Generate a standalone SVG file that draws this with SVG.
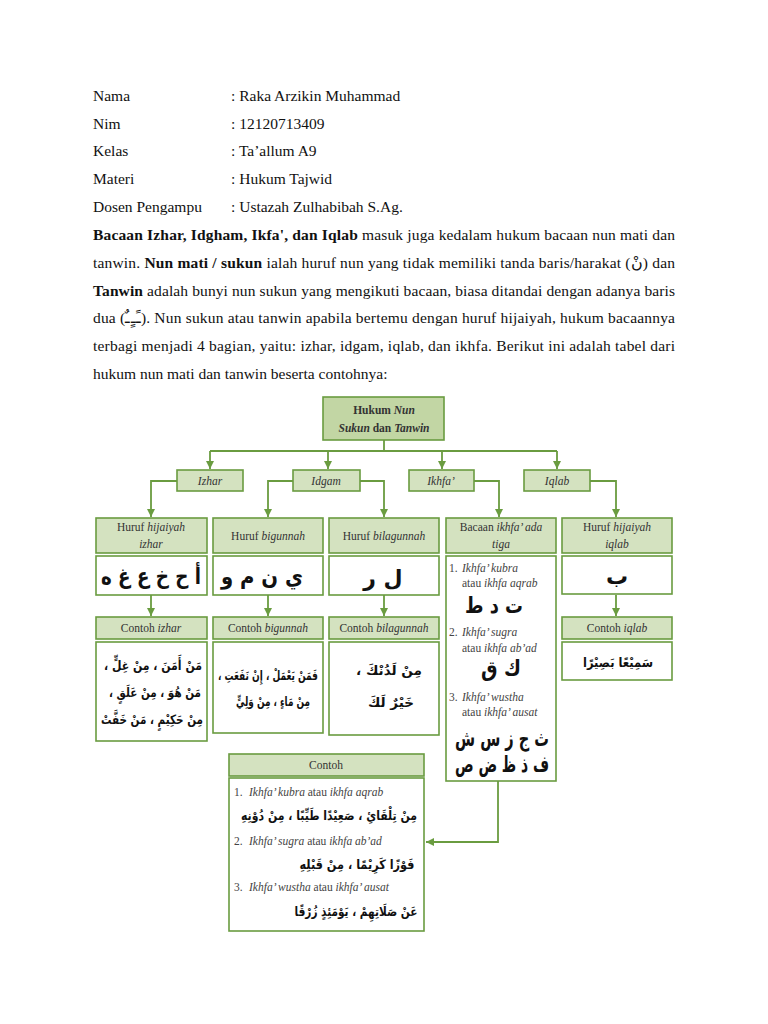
<svg xmlns="http://www.w3.org/2000/svg" width="768" height="1024" viewBox="0 0 768 1024">
<defs>
<marker id="ah" markerUnits="userSpaceOnUse" markerWidth="10" markerHeight="10" refX="8" refY="4" orient="auto">
<path d="M0,0 L8,4 L0,8 Z" fill="#6a9c40"/>
</marker>
<style>
.doc{font-family:"Liberation Serif","Times New Roman",serif;font-size:15.5px;fill:#111}
.b{font-weight:bold}
.hd{fill:#d4e2c0;stroke:#6a9c40;stroke-width:1.6}
.top{fill:#c2d6a4;stroke:#6a9c40;stroke-width:1.6}
.bx{fill:#fff;stroke:#6a9c40;stroke-width:1.6}
.lbl{font-family:"Liberation Serif","Times New Roman",serif;font-size:11.5px;fill:#333;text-anchor:middle}
.sm{font-family:"Liberation Serif","Times New Roman",serif;font-size:11.5px;fill:#444}
.i{font-style:italic}
.ar{font-family:"DejaVu Sans","Noto Sans",sans-serif;fill:#111;direction:rtl;unicode-bidi:embed;text-anchor:middle}
.big{font-size:22px;font-weight:bold}
.ex{font-size:13px;font-weight:bold}
.cn{fill:none;stroke:#6a9c40;stroke-width:1.8}
</style>
</defs>
<rect width="768" height="1024" fill="#fff"/>

<g id="header" class="doc">
<text x="93" y="101">Nama</text><text x="231" y="101">: Raka Arzikin Muhammad</text>
<text x="93" y="129">Nim</text><text x="231" y="129">: 12120713409</text>
<text x="93" y="156">Kelas</text><text x="231" y="156">: Ta’allum A9</text>
<text x="93" y="184">Materi</text><text x="231" y="184">: Hukum Tajwid</text>
<text x="93" y="212">Dosen Pengampu</text><text x="231" y="212">: Ustazah Zulhabibah S.Ag.</text>
</g>

<g id="paragraph" class="doc">
<text x="93" y="240" textLength="582" lengthAdjust="spacing"><tspan class="b">Bacaan Izhar, Idgham, Ikfa', dan Iqlab</tspan> masuk juga kedalam hukum bacaan nun mati dan</text>
<text x="93" y="268" textLength="582" lengthAdjust="spacing">tanwin. <tspan class="b">Nun mati / sukun</tspan> ialah huruf nun yang tidak memiliki tanda baris/harakat (نْ) dan</text>
<text x="93" y="296" textLength="582" lengthAdjust="spacing"><tspan class="b">Tanwin</tspan> adalah bunyi nun sukun yang mengikuti bacaan, biasa ditandai dengan adanya baris</text>
<text x="93" y="323" textLength="582" lengthAdjust="spacing">dua (ـًـٍـٌ).  Nun sukun atau tanwin apabila bertemu dengan huruf hijaiyah, hukum bacaannya</text>
<text x="93" y="351" textLength="582" lengthAdjust="spacing">terbagi menjadi 4 bagian, yaitu: izhar, idgam, iqlab, dan ikhfa. Berikut ini adalah tabel dari</text>
<text x="93" y="379">hukum nun mati dan tanwin beserta contohnya:</text>
</g>

<g id="connectors">
<path class="cn" d="M384,440 V451 M210,451 H557"/>
<path class="cn" d="M210,451 V469" marker-end="url(#ah)"/>
<path class="cn" d="M328,451 V469" marker-end="url(#ah)"/>
<path class="cn" d="M442,451 V469" marker-end="url(#ah)"/>
<path class="cn" d="M557,451 V469" marker-end="url(#ah)"/>
<path class="cn" d="M177,481 H151 V517" marker-end="url(#ah)"/>
<path class="cn" d="M293,481 H268 V517" marker-end="url(#ah)"/>
<path class="cn" d="M360,481 H384 V517" marker-end="url(#ah)"/>
<path class="cn" d="M474,481 H499 V517" marker-end="url(#ah)"/>
<path class="cn" d="M590,481 H616 V517" marker-end="url(#ah)"/>
<path class="cn" d="M151,595 V616" marker-end="url(#ah)"/>
<path class="cn" d="M268,595 V616" marker-end="url(#ah)"/>
<path class="cn" d="M384,595 V616" marker-end="url(#ah)"/>
<path class="cn" d="M616,595 V616" marker-end="url(#ah)"/>
<path class="cn" d="M498,781 V842 H426" marker-end="url(#ah)"/>
</g>

<g id="hukum">
<rect class="top" x="323" y="397" width="121" height="43"/>
<text class="lbl b" x="384" y="414" font-size="12.5">Hukum <tspan class="i">Nun</tspan></text>
<text class="lbl b" x="384" y="432" font-size="12.5"><tspan class="i">Sukun</tspan> dan <tspan class="i">Tanwin</tspan></text>
</g>

<g id="izhar"><rect class="hd" x="177" y="470" width="66" height="21"/><text class="lbl i" x="210" y="485">Izhar</text></g>
<g id="idgam"><rect class="hd" x="293" y="470" width="67" height="21"/><text class="lbl i" x="326" y="485">Idgam</text></g>
<g id="ikhfa"><rect class="hd" x="409" y="470" width="65" height="21"/><text class="lbl i" x="441" y="485">Ikhfa’</text></g>
<g id="iqlab"><rect class="hd" x="524" y="470" width="66" height="21"/><text class="lbl i" x="557" y="485">Iqlab</text></g>

<g id="huruf-izhar">
<rect class="hd" x="96" y="518" width="111" height="35"/>
<text class="lbl" x="151" y="531">Huruf <tspan class="i">hijaiyah</tspan></text>
<text class="lbl i" x="151" y="548">izhar</text>
<rect class="bx" x="96" y="556" width="111" height="39"/>
<text class="ar big" x="151" y="584" textLength="100" lengthAdjust="spacingAndGlyphs">أ ح خ ع غ ه</text>
</g>
<g id="huruf-bigunnah">
<rect class="hd" x="213" y="518" width="110" height="35"/>
<text class="lbl" x="268" y="540">Huruf <tspan class="i">bigunnah</tspan></text>
<rect class="bx" x="213" y="556" width="110" height="39"/>
<text class="ar big" x="262" y="584" textLength="82" lengthAdjust="spacingAndGlyphs">ي  ن م و</text>
</g>
<g id="huruf-bilagunnah">
<rect class="hd" x="329" y="518" width="110" height="35"/>
<text class="lbl" x="384" y="540">Huruf <tspan class="i">bilagunnah</tspan></text>
<rect class="bx" x="329" y="556" width="110" height="39"/>
<text class="ar big" x="383" y="586">ل ر</text>
</g>
<g id="bacaan-ikhfa">
<rect class="hd" x="446" y="518" width="110" height="35"/>
<text class="lbl" x="501" y="531">Bacaan <tspan class="i">ikhfa’ ada</tspan></text>
<text class="lbl i" x="501" y="548">tiga</text>
<rect class="bx" x="446" y="556" width="110" height="225"/>
<text class="sm" x="449" y="572">1.</text>
<text class="sm i" x="462" y="572">Ikhfa’ kubra</text>
<text class="sm" x="462" y="587">atau <tspan class="i">ikhfa aqrab</tspan></text>
<text class="ar big" x="494" y="613" textLength="58" lengthAdjust="spacingAndGlyphs">ت د ط</text>
<text class="sm" x="449" y="636">2.</text>
<text class="sm i" x="462" y="636">Ikhfa’ sugra</text>
<text class="sm" x="462" y="652">atau <tspan class="i">ikhfa ab’ad</tspan></text>
<text class="ar big" x="501" y="676" textLength="40" lengthAdjust="spacingAndGlyphs">ك  ق</text>
<text class="sm" x="449" y="701">3.</text>
<text class="sm i" x="462" y="701">Ikhfa’ wustha</text>
<text class="sm" x="462" y="716">atau <tspan class="i">ikhfa’ ausat</tspan></text>
<text class="ar big" x="502" y="746" textLength="94" lengthAdjust="spacingAndGlyphs">ث ج ز س ش</text>
<text class="ar big" x="502" y="772" textLength="94" lengthAdjust="spacingAndGlyphs">ف ذ ظ ض ص</text>
</g>
<g id="huruf-iqlab">
<rect class="hd" x="562" y="518" width="110" height="35"/>
<text class="lbl" x="617" y="531">Huruf <tspan class="i">hijaiyah</tspan></text>
<text class="lbl i" x="617" y="548">iqlab</text>
<rect class="bx" x="562" y="556" width="110" height="38"/>
<text class="ar big" x="617" y="584">ب</text>
</g>

<g id="contoh-izhar">
<rect class="hd" x="96" y="617" width="111" height="22"/>
<text class="lbl" x="151" y="632">Contoh <tspan class="i">izhar</tspan></text>
<rect class="bx" x="96" y="642" width="111" height="99"/>
<text class="ar ex" x="153" y="670" textLength="98" lengthAdjust="spacingAndGlyphs">مَنْ أَمَنَ ، مِنْ غِلٍّ ،</text>
<text class="ar ex" x="155" y="697" textLength="92" lengthAdjust="spacingAndGlyphs">مَنْ هُوَ ، مِنْ عَلَقٍ ،</text>
<text class="ar ex" x="152" y="724" textLength="102" lengthAdjust="spacingAndGlyphs">مِنْ حَكِيْمٍ ، مَنْ خَفَّتْ</text>
</g>
<g id="contoh-bigunnah">
<rect class="hd" x="213" y="617" width="110" height="22"/>
<text class="lbl" x="268" y="632">Contoh <tspan class="i">bigunnah</tspan></text>
<rect class="bx" x="213" y="642" width="110" height="91"/>
<text class="ar ex" x="268" y="680" textLength="100" lengthAdjust="spacingAndGlyphs">فَمَنْ يَعْمَلْ ، إِنْ نَفَعَتِ ،</text>
<text class="ar ex" x="273" y="706" textLength="74" lengthAdjust="spacingAndGlyphs">مِنْ مَاءٍ ، مِنْ وَلِيٍّ</text>
</g>
<g id="contoh-bilagunnah">
<rect class="hd" x="329" y="617" width="110" height="22"/>
<text class="lbl" x="384" y="632">Contoh <tspan class="i">bilagunnah</tspan></text>
<rect class="bx" x="329" y="642" width="110" height="93"/>
<text class="ar ex" x="389" y="675" font-size="17" textLength="66" lengthAdjust="spacingAndGlyphs">مِنْ لَدُنْكَ ،</text>
<text class="ar ex" x="391" y="707" font-size="17" textLength="46" lengthAdjust="spacingAndGlyphs">خَيْرٌ لَكَ</text>
</g>
<g id="contoh-iqlab">
<rect class="hd" x="562" y="617" width="110" height="22"/>
<text class="lbl" x="617" y="632">Contoh <tspan class="i">iqlab</tspan></text>
<rect class="bx" x="562" y="642" width="110" height="38"/>
<text class="ar ex" x="618" y="667" textLength="70" lengthAdjust="spacingAndGlyphs">سَمِيْعًا بَصِيْرًا</text>
</g>

<g id="contoh">
<rect class="hd" x="229" y="754" width="195" height="22"/>
<text class="lbl" x="326" y="769">Contoh</text>
<rect class="bx" x="229" y="778" width="195" height="153"/>
<text class="sm" x="234" y="796">1.</text>
<text class="sm" x="249" y="796"><tspan class="i">Ikhfa’ kubra</tspan> atau <tspan class="i">ikhfa aqrab</tspan></text>
<text class="ar ex" x="329" y="820" font-size="14" textLength="176" lengthAdjust="spacingAndGlyphs">مِنْ تِلْقَائِ ، صَعِيْدًا طَيِّبًا ، مِنْ دُوْنِهِ</text>
<text class="sm" x="234" y="845">2.</text>
<text class="sm" x="249" y="845"><tspan class="i">Ikhfa’ sugra</tspan> atau <tspan class="i">ikhfa ab’ad</tspan></text>
<text class="ar ex" x="357" y="869" font-size="15" textLength="115" lengthAdjust="spacingAndGlyphs">فَوْزًا كَرِيْمًا ، مِنْ قَبْلِهِ</text>
<text class="sm" x="234" y="891">3.</text>
<text class="sm" x="249" y="891"><tspan class="i">Ikhfa’ wustha</tspan> atau <tspan class="i">ikhfa’ ausat</tspan></text>
<text class="ar ex" x="356" y="916" font-size="15" textLength="123" lengthAdjust="spacingAndGlyphs">عَنْ صَلَاتِهِمْ ، يَوْمَئِذٍ زُرْقًا</text>
</g>
</svg>
